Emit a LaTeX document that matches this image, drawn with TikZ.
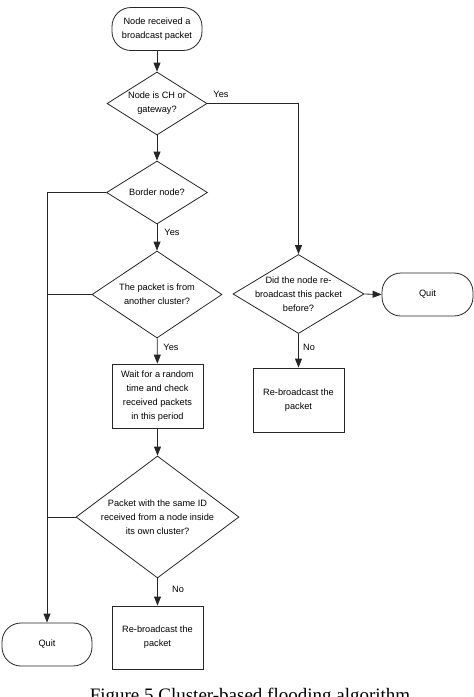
\documentclass[tikz,border=0pt]{standalone}
\usepackage{fontspec}
\setmainfont{Liberation Sans}
\newfontfamily\capfont{Liberation Serif}
\usetikzlibrary{shapes.geometric,arrows.meta}
\begin{document}
\begin{tikzpicture}[x=1pt,y=-1pt,
  every node/.style={font=\fontsize{9.2}{14}\selectfont, text=black},
  ln/.style={draw=black!85, line width=0.8pt},
  arr/.style={ln, -{Triangle[length=9pt,width=7pt]}},
  dia/.style={shape=diamond, ln, inner sep=0pt},
  boxx/.style={shape=rectangle, ln, minimum width=91, minimum height=64, align=center, inner sep=0pt},
  term/.style={shape=rectangle, ln, rounded corners=19pt, minimum width=90, minimum height=43, align=center, inner sep=0pt},
  txt/.style={align=center, inner sep=0pt},
  lbl/.style={inner sep=0pt}
]
\useasboundingbox (0,0) rectangle (474,697);
\fill[white] (0,0) rectangle (474,697);

\node[term] (start) at (157,29) {Node received a\\broadcast packet};
\node[dia, minimum width=100, minimum height=63, label={[txt]center:Node is CH or\\gateway?}] (d1) at (157,103.5) {};
\node[dia, minimum width=101, minimum height=63, label={[txt]center:Border node?}] (d2) at (157,192.5) {};
\node[dia, minimum width=130, minimum height=87, label={[txt]center:The packet is from\\another cluster?}] (d3) at (157,294.5) {};
\node[boxx] (wait) at (157.5,396) {Wait for a random\\time and check\\received packets\\in this period};
\node[dia, minimum width=163, minimum height=122, label={[txt]center:Packet with the same ID\\received from a node inside\\its own cluster?}] (d4) at (157.5,517) {};
\node[boxx, minimum height=63] (b1) at (157.5,637.5) {Re-broadcast the\\packet};
\node[term] (q1) at (47,644.5) {Quit};

\node[dia, minimum width=131, minimum height=79, label={[txt]center:Did the node re-\\broadcast this packet\\before?}] (d5) at (298.5,294) {};
\node[term, minimum width=91] (q2) at (427.5,294.5) {Quit};
\node[boxx] (b2) at (298.5,400) {Re-broadcast the\\packet};

\draw[arr] (start) -- (d1);
\draw[arr] (d1) -- (d2);
\draw[arr] (d2) -- (d3);
\draw[arr] (d3) -- (wait);
\draw[arr] (wait) -- (d4);
\draw[arr] (d4) -- (b1);
\draw[arr] (d1.east) -| (d5.north);
\draw[arr] (d5) -- (b2);
\draw[arr] (d5.east) -- (q2.west);
\draw[arr] (d2.west) -| (q1.north);
\draw[ln] (d3.west) -- (d3.west -| q1.north);
\draw[ln] (d4.west) -- (d4.west -| q1.north);

\node[lbl] (y1) at (221,94) {Yes};
\node[lbl] (y2) at (172,232) {Yes};
\node[lbl] (y3) at (171,347) {Yes};
\node[lbl] (n1) at (178,589) {No};
\node[lbl] (n2) at (309,347) {No};

\node[anchor=base, inner sep=0pt, font=\capfont\fontsize{19}{22}\selectfont] (cap) at (250,701) {Figure 5 Cluster-based flooding algorithm};
\end{tikzpicture}
\end{document}
